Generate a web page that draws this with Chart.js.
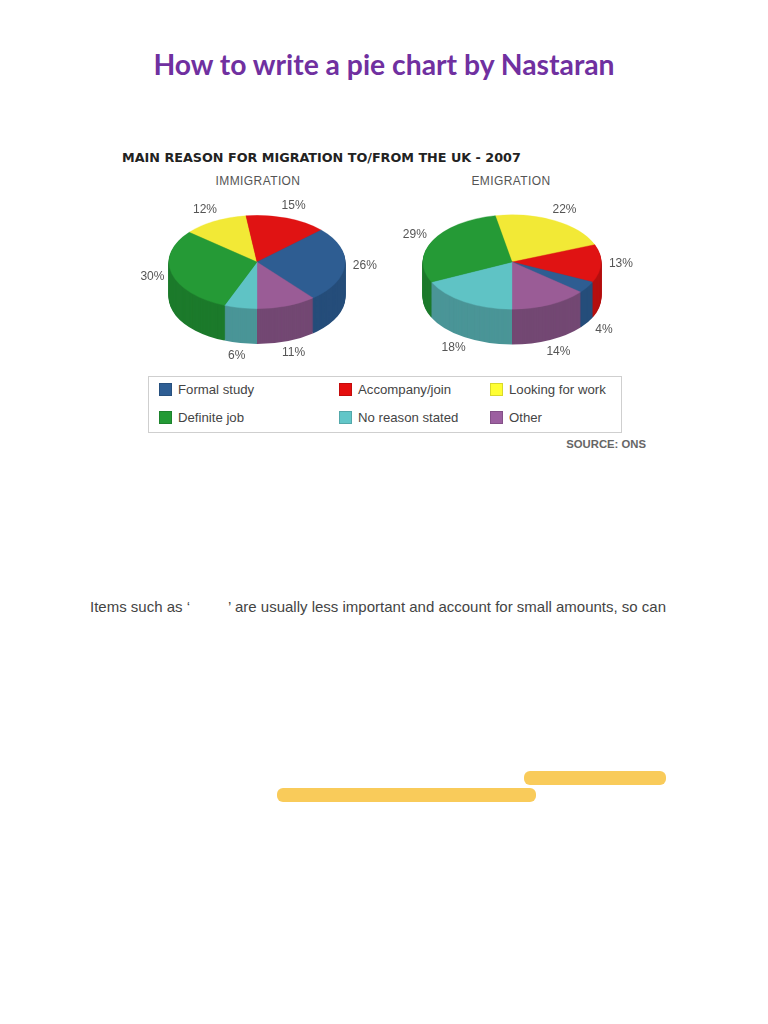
<!DOCTYPE html>
<html>
<head>
<meta charset="utf-8">
<script src="https://cdn.jsdelivr.net/npm/chart.js@4.4.1/dist/chart.umd.min.js"></script>
<style>
  body { margin: 0; background: #fff; width: 768px; height: 1024px; position: relative; overflow: hidden; }
  .abs { position: absolute; }
  #title { left: 0; width: 768px; top: 47px; text-align: center; font: bold 28.3px Lato, sans-serif; color: #7030a0; }
  #heading { left: 122px; top: 150px; font: bold 12.75px "DejaVu Sans", sans-serif; color: #222; }
  .sub { top: 174px; width: 160px; text-align: center; font: 12px "Liberation Sans", Arial, sans-serif; color: #555; letter-spacing: 0.4px; }
  canvas { position: absolute; }
  #legend { left: 148px; top: 376px; width: 472px; height: 55px; border: 1px solid #cfcfcf; }
  .item { position: absolute; font: 13.2px "Liberation Sans", Arial, sans-serif; color: #444; white-space: nowrap; }
  .sw { display: inline-block; width: 13px; height: 13px; vertical-align: -2px; margin-right: 6px; box-sizing: border-box; border: 1px solid rgba(0,0,0,0.15); }
  #source { right: 122px; top: 438px; font: bold 11.3px "Liberation Sans", Arial, sans-serif; color: #666; }
  #body { left: 90px; top: 598px; font: 15px "Liberation Sans", Arial, sans-serif; color: #444; white-space: nowrap; }
  .hl { background: #f9cb5a; border-radius: 6px; height: 14px; }
</style>
</head>
<body>
<div id="title" class="abs">How to write a pie chart by Nastaran</div>
<div id="heading" class="abs">MAIN REASON FOR MIGRATION TO/FROM THE UK - 2007</div>
<div class="abs sub" style="left:178px">IMMIGRATION</div>
<div class="abs sub" style="left:431px">EMIGRATION</div>
<canvas id="immChart" width="280" height="176" style="left:117px; top:190px"></canvas>
<canvas id="emiChart" width="280" height="180" style="left:372px; top:190px"></canvas>
<div id="legend" class="abs"></div>
<div id="source" class="abs">SOURCE: ONS</div>
<div id="body" class="abs">Items such as ‘<span style="display:inline-block;width:38px"></span>’ are usually less important and account for small amounts, so can</div>
<div class="abs hl" style="left:524px; top:771px; width:142px"></div>
<div class="abs hl" style="left:277px; top:788px; width:259px"></div>

<script>
// Slice order (clockwise) as drawn in both pies
const categories = ['Looking for work', 'Accompany/join', 'Formal study', 'Other', 'No reason stated', 'Definite job'];
const immigration = [12, 15, 26, 11, 6, 30];
const emigration = [22, 13, 4, 14, 18, 29];
// Legend reading order
const legendOrder = ['Formal study', 'Accompany/join', 'Looking for work', 'Definite job', 'No reason stated', 'Other'];

const topColors = ['#f2e936', '#e01313', '#2e5d92', '#9a5c96', '#5fc3c5', '#259a36'];
const sideColors = ['#c9c02a', '#b50f0f', '#254d7a', '#734873', '#4a9597', '#1c7a2b'];
const swatchColors = ['#ffff33', '#e50f0f', '#2e5e94', '#9c5fa0', '#62c6c8', '#239a35'];

const TILT = 0.53;   // vertical squash of the top face
const DEPTH = 35;    // wall height in px

// Fake 3D: squash the library's arcs and stack darker copies under them
const pie3d = {
    id: 'pie3d',
    beforeDatasetsDraw(chart, args, opts) {
        const ctx = chart.ctx;
        const arcs = chart.getDatasetMeta(0).data;
        const c = arcs[0];
        ctx.save();
        ctx.translate(0, opts.centerY);
        ctx.scale(1, TILT);
        ctx.translate(0, -c.y);
        for (let d = DEPTH; d > 0; d--) {
            arcs.forEach((a, i) => {
                const oy = a.y + d / TILT;
                ctx.fillStyle = sideColors[i];
                ctx.beginPath();
                ctx.moveTo(a.x, oy);
                ctx.arc(a.x, oy, a.outerRadius + 0.5, a.startAngle, a.endAngle);
                ctx.closePath();
                ctx.fill();
            });
        }
    },
    afterDatasetsDraw(chart, args, opts) {
        const ctx = chart.ctx;
        ctx.restore();

        // percentage labels outside the rim, pushed below the wall on the front
        const arcs = chart.getDatasetMeta(0).data;
        const values = chart.data.datasets[0].data;
        ctx.save();
        ctx.font = '12px "Liberation Sans", Arial, sans-serif';
        ctx.fillStyle = '#555';
        ctx.textAlign = 'center';
        ctx.textBaseline = 'middle';
        arcs.forEach((a, i) => {
            const mid = (a.startAngle + a.endAngle) / 2;
            const cs = Math.cos(mid), sn = Math.sin(mid);
            const wall = Math.min(1, Math.max(0, (sn - 0.25) / 0.25));
            const x = a.x + (a.outerRadius + 20) * cs;
            const y = opts.centerY + (a.outerRadius * TILT + 13) * sn + DEPTH * wall;
            ctx.fillText(values[i] + '%', x, y);
        });
        ctx.restore();
    }
};

function makePie(id, values, radius, rotation, centerY) {
    return new Chart(document.getElementById(id), {
        type: 'pie',
        data: {
            labels: categories,
            datasets: [{
                data: values,
                backgroundColor: topColors,
                borderColor: topColors,
                borderWidth: 0.5,
                radius: radius
            }]
        },
        options: {
            responsive: false,
            animation: false,
            rotation: rotation,
            events: [],
            plugins: {
                legend: { display: false },
                tooltip: { enabled: false },
                pie3d: { centerY: centerY }
            }
        },
        plugins: [pie3d]
    });
}

makePie('immChart', immigration, 88, -50.4, 72);
makePie('emiChart', emigration, 89, -10.8, 72);

// HTML legend, 3 columns x 2 rows
const legendEl = document.getElementById('legend');
const colX = [10, 190, 341];
const rowY = [5, 33];
legendOrder.forEach((name, n) => {
    const idx = categories.indexOf(name);
    const item = document.createElement('div');
    item.className = 'item';
    item.style.left = colX[n % 3] + 'px';
    item.style.top = rowY[Math.floor(n / 3)] + 'px';
    const sw = document.createElement('span');
    sw.className = 'sw';
    sw.style.background = swatchColors[idx];
    item.appendChild(sw);
    item.appendChild(document.createTextNode(name));
    legendEl.appendChild(item);
});
</script>
</body>
</html>
